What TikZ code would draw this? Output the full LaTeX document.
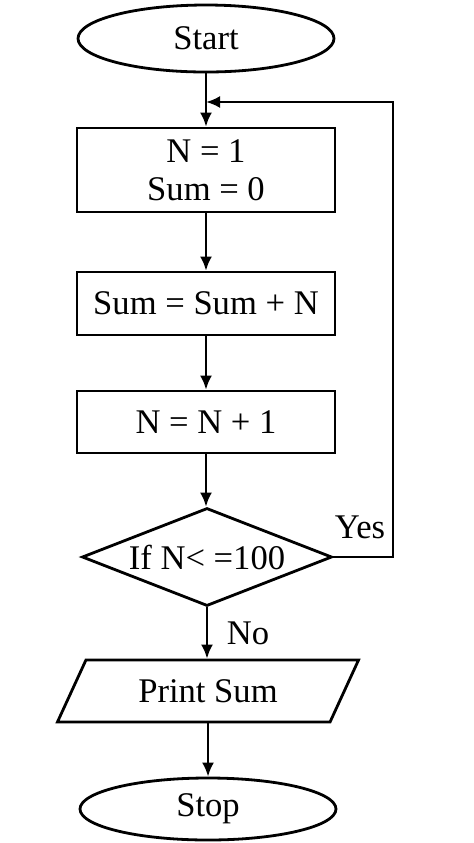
\documentclass[tikz,border=0pt]{standalone}
\usepackage{fontspec}
\setmainfont{Liberation Serif}
\usetikzlibrary{shapes.geometric,arrows.meta}
\tikzset{
  term/.style={draw,ellipse,line width=1.4pt,minimum width=128pt,inner sep=0pt},
  proc/.style={draw,rectangle,line width=1.4pt,minimum width=129pt,align=center,inner sep=0pt},
  decide/.style={draw,diamond,line width=1.4pt,aspect=2.5,minimum width=125pt,minimum height=49pt,inner sep=0pt},
  io/.style={draw,trapezium,trapezium left angle=55,trapezium right angle=125,line width=1.4pt,minimum width=151pt,minimum height=31pt,inner sep=0pt,trapezium stretches=true},
  flow/.style={line width=1.2pt,-{Latex[length=7pt,width=6pt]}}
}
\begin{document}
\begin{tikzpicture}[x=0.5pt,y=-0.5pt,font=\fontsize{17.3}{19}\selectfont]
        \useasboundingbox (0,0) rectangle (474,843);
        % boxes
        \node[term,minimum height=33.5pt] (start) at (206,38.5) {Start};
        \node[proc,minimum height=42pt] (init) at (206,170) {N = 1\\Sum = 0};
        \node[proc,minimum height=31.5pt] (add) at (206,303.5) {Sum = Sum + N};
        \node[proc,minimum height=31pt] (inc) at (206,422) {N = N + 1};
        \node[decide] (test) at (207,557) {If N< =100};
        \node[io] (print) at (208,691) {Print Sum};
        \node[term,minimum height=31pt] (stop) at (208,809) {Stop};
        \coordinate (merge) at (206,102);
        \coordinate (back) at (393,102);
        % arrows
        \draw[flow] (start) -- (init);
        \draw[flow] (init) -- (add);
        \draw[flow] (add) -- (inc);
        \draw[flow] (inc.south) -- (inc.south |- test.north);
        \draw[flow] (test.south) -- node[right,xshift=6pt]{No} (test.south |- print.north);
        \draw[flow] (print.south) -- (print.south |- stop.north);
        \draw[flow] (test.east) -| (back) -- (merge);
        \node (yes) at (360,527) {Yes};
      \end{tikzpicture}
\end{document}
